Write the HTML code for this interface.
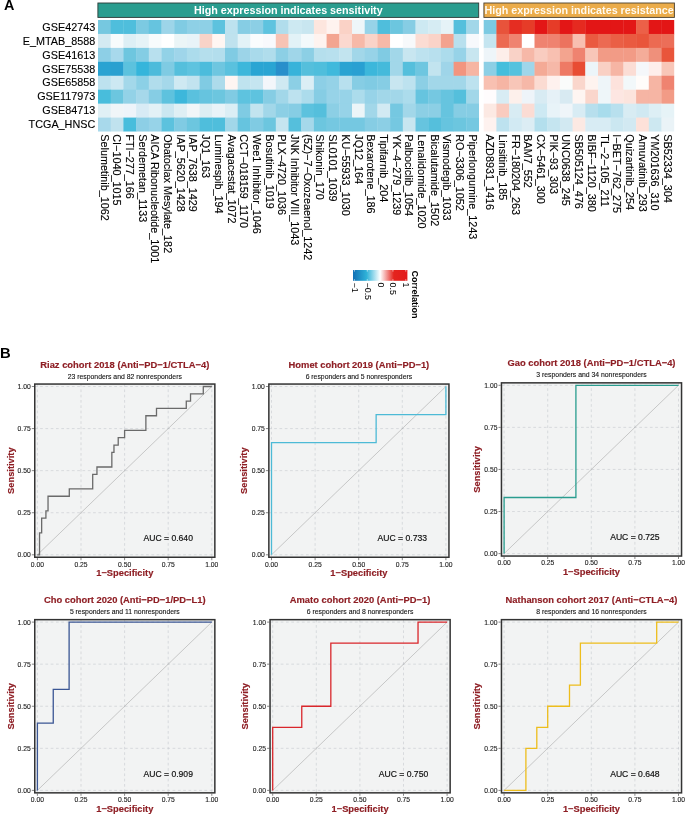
<!DOCTYPE html>
<html><head><meta charset="utf-8"><title>Figure</title>
<style>
html,body{margin:0;padding:0;background:#fff;}
body{width:685px;height:814px;overflow:hidden;}
svg{display:block;font-family:"Liberation Sans", sans-serif;will-change:transform;}
</style></head>
<body>
<svg width="685" height="814" viewBox="0 0 685 814">
<rect width="685" height="814" fill="#fff"/>
<rect x="97.9" y="3.0" width="380.8" height="14.4" fill="#2a9d8f" stroke="#2b3a37" stroke-width="0.9"/>
<text x="288.3" y="13.7" text-anchor="middle" font-weight="bold" font-size="10.75" fill="#fff">High expression indicates sensitivity</text>
<rect x="483.9" y="3.0" width="190.5" height="14.4" fill="#ebac4a" stroke="#4a4030" stroke-width="0.9"/>
<text x="579.1" y="13.7" text-anchor="middle" font-weight="bold" font-size="10.75" fill="#fffaf0">High expression indicates resistance</text>
<rect x="98.00" y="20.00" width="13.05" height="14.29" fill="#76c8e0"/>
<rect x="110.70" y="20.00" width="13.05" height="14.29" fill="#4fbedc"/>
<rect x="123.40" y="20.00" width="13.05" height="14.29" fill="#4fbedc"/>
<rect x="136.10" y="20.00" width="13.05" height="14.29" fill="#7ccae2"/>
<rect x="148.80" y="20.00" width="13.05" height="14.29" fill="#66c4df"/>
<rect x="161.50" y="20.00" width="13.05" height="14.29" fill="#9dd5e9"/>
<rect x="174.20" y="20.00" width="13.05" height="14.29" fill="#80cbe3"/>
<rect x="186.90" y="20.00" width="13.05" height="14.29" fill="#8ed0e6"/>
<rect x="199.60" y="20.00" width="13.05" height="14.29" fill="#8ed0e6"/>
<rect x="212.30" y="20.00" width="13.05" height="14.29" fill="#5dc2de"/>
<rect x="225.00" y="20.00" width="13.05" height="14.29" fill="#bde2ef"/>
<rect x="237.70" y="20.00" width="13.05" height="14.29" fill="#86cde4"/>
<rect x="250.40" y="20.00" width="13.05" height="14.29" fill="#8ccfe5"/>
<rect x="263.10" y="20.00" width="13.05" height="14.29" fill="#5ec3df"/>
<rect x="275.80" y="20.00" width="13.05" height="14.29" fill="#b1ddec"/>
<rect x="288.50" y="20.00" width="13.05" height="14.29" fill="#cde9f2"/>
<rect x="301.20" y="20.00" width="13.05" height="14.29" fill="#c8e6f0"/>
<rect x="313.90" y="20.00" width="13.05" height="14.29" fill="#fde6de"/>
<rect x="326.60" y="20.00" width="13.05" height="14.29" fill="#fef3ef"/>
<rect x="339.30" y="20.00" width="13.05" height="14.29" fill="#fad2c6"/>
<rect x="352.00" y="20.00" width="13.05" height="14.29" fill="#eef6f9"/>
<rect x="364.70" y="20.00" width="13.05" height="14.29" fill="#97d3e8"/>
<rect x="377.40" y="20.00" width="13.05" height="14.29" fill="#4fbedc"/>
<rect x="390.10" y="20.00" width="13.05" height="14.29" fill="#6cc6df"/>
<rect x="402.80" y="20.00" width="13.05" height="14.29" fill="#86cde4"/>
<rect x="415.50" y="20.00" width="13.05" height="14.29" fill="#cde9f2"/>
<rect x="428.20" y="20.00" width="13.05" height="14.29" fill="#d6ecf3"/>
<rect x="440.90" y="20.00" width="13.05" height="14.29" fill="#e6f3f7"/>
<rect x="453.60" y="20.00" width="13.05" height="14.29" fill="#55bfdc"/>
<rect x="466.30" y="20.00" width="12.70" height="14.29" fill="#a2d7e9"/>
<rect x="483.70" y="20.00" width="13.05" height="14.29" fill="#7ccae2"/>
<rect x="496.40" y="20.00" width="13.05" height="14.29" fill="#e8533b"/>
<rect x="509.10" y="20.00" width="13.05" height="14.29" fill="#e52d22"/>
<rect x="521.80" y="20.00" width="13.05" height="14.29" fill="#e63c28"/>
<rect x="534.50" y="20.00" width="13.05" height="14.29" fill="#e31616"/>
<rect x="547.20" y="20.00" width="13.05" height="14.29" fill="#e63c28"/>
<rect x="559.90" y="20.00" width="13.05" height="14.29" fill="#e31616"/>
<rect x="572.60" y="20.00" width="13.05" height="14.29" fill="#e52a20"/>
<rect x="585.30" y="20.00" width="13.05" height="14.29" fill="#e31616"/>
<rect x="598.00" y="20.00" width="13.05" height="14.29" fill="#e31616"/>
<rect x="610.70" y="20.00" width="13.05" height="14.29" fill="#e31616"/>
<rect x="623.40" y="20.00" width="13.05" height="14.29" fill="#e31616"/>
<rect x="636.10" y="20.00" width="13.05" height="14.29" fill="#ec6048"/>
<rect x="648.80" y="20.00" width="13.05" height="14.29" fill="#e31616"/>
<rect x="661.50" y="20.00" width="12.70" height="14.29" fill="#e31616"/>
<rect x="98.00" y="33.94" width="13.05" height="14.29" fill="#d4eaf2"/>
<rect x="110.70" y="33.94" width="13.05" height="14.29" fill="#f7fbfc"/>
<rect x="123.40" y="33.94" width="13.05" height="14.29" fill="#ddeff5"/>
<rect x="136.10" y="33.94" width="13.05" height="14.29" fill="#e6f3f7"/>
<rect x="148.80" y="33.94" width="13.05" height="14.29" fill="#f7fbfc"/>
<rect x="161.50" y="33.94" width="13.05" height="14.29" fill="#ffffff"/>
<rect x="174.20" y="33.94" width="13.05" height="14.29" fill="#ebf5f7"/>
<rect x="186.90" y="33.94" width="13.05" height="14.29" fill="#e8f3f8"/>
<rect x="199.60" y="33.94" width="13.05" height="14.29" fill="#f8d3c8"/>
<rect x="212.30" y="33.94" width="13.05" height="14.29" fill="#fff6f2"/>
<rect x="225.00" y="33.94" width="13.05" height="14.29" fill="#bfe2ee"/>
<rect x="237.70" y="33.94" width="13.05" height="14.29" fill="#e2f2f7"/>
<rect x="250.40" y="33.94" width="13.05" height="14.29" fill="#fafcfd"/>
<rect x="263.10" y="33.94" width="13.05" height="14.29" fill="#f8f9fc"/>
<rect x="275.80" y="33.94" width="13.05" height="14.29" fill="#f7c3b4"/>
<rect x="288.50" y="33.94" width="13.05" height="14.29" fill="#e2f2f7"/>
<rect x="301.20" y="33.94" width="13.05" height="14.29" fill="#f3f9fb"/>
<rect x="313.90" y="33.94" width="13.05" height="14.29" fill="#fef3ef"/>
<rect x="326.60" y="33.94" width="13.05" height="14.29" fill="#f3a591"/>
<rect x="339.30" y="33.94" width="13.05" height="14.29" fill="#fbd8cf"/>
<rect x="352.00" y="33.94" width="13.05" height="14.29" fill="#f7b9a8"/>
<rect x="364.70" y="33.94" width="13.05" height="14.29" fill="#fad3c8"/>
<rect x="377.40" y="33.94" width="13.05" height="14.29" fill="#f7b9a8"/>
<rect x="390.10" y="33.94" width="13.05" height="14.29" fill="#ffffff"/>
<rect x="402.80" y="33.94" width="13.05" height="14.29" fill="#f7f9fb"/>
<rect x="415.50" y="33.94" width="13.05" height="14.29" fill="#fbdcd3"/>
<rect x="428.20" y="33.94" width="13.05" height="14.29" fill="#fad3c8"/>
<rect x="440.90" y="33.94" width="13.05" height="14.29" fill="#f3a28e"/>
<rect x="453.60" y="33.94" width="13.05" height="14.29" fill="#b8e0ee"/>
<rect x="466.30" y="33.94" width="12.70" height="14.29" fill="#f7f9fc"/>
<rect x="483.70" y="33.94" width="13.05" height="14.29" fill="#c5e5f0"/>
<rect x="496.40" y="33.94" width="13.05" height="14.29" fill="#ec6a52"/>
<rect x="509.10" y="33.94" width="13.05" height="14.29" fill="#ef8370"/>
<rect x="521.80" y="33.94" width="13.05" height="14.29" fill="#ffffff"/>
<rect x="534.50" y="33.94" width="13.05" height="14.29" fill="#ef8370"/>
<rect x="547.20" y="33.94" width="13.05" height="14.29" fill="#ef8370"/>
<rect x="559.90" y="33.94" width="13.05" height="14.29" fill="#ec735e"/>
<rect x="572.60" y="33.94" width="13.05" height="14.29" fill="#f8bfb0"/>
<rect x="585.30" y="33.94" width="13.05" height="14.29" fill="#ea5a40"/>
<rect x="598.00" y="33.94" width="13.05" height="14.29" fill="#ec6a52"/>
<rect x="610.70" y="33.94" width="13.05" height="14.29" fill="#ea5f45"/>
<rect x="623.40" y="33.94" width="13.05" height="14.29" fill="#ea5a40"/>
<rect x="636.10" y="33.94" width="13.05" height="14.29" fill="#e9553b"/>
<rect x="648.80" y="33.94" width="13.05" height="14.29" fill="#ec6a52"/>
<rect x="661.50" y="33.94" width="12.70" height="14.29" fill="#ec6e58"/>
<rect x="98.00" y="47.88" width="13.05" height="14.29" fill="#8dcfe6"/>
<rect x="110.70" y="47.88" width="13.05" height="14.29" fill="#a8d9ec"/>
<rect x="123.40" y="47.88" width="13.05" height="14.29" fill="#6ec6df"/>
<rect x="136.10" y="47.88" width="13.05" height="14.29" fill="#84cde4"/>
<rect x="148.80" y="47.88" width="13.05" height="14.29" fill="#b8e0ee"/>
<rect x="161.50" y="47.88" width="13.05" height="14.29" fill="#92d2e7"/>
<rect x="174.20" y="47.88" width="13.05" height="14.29" fill="#9fd5ea"/>
<rect x="186.90" y="47.88" width="13.05" height="14.29" fill="#acdcec"/>
<rect x="199.60" y="47.88" width="13.05" height="14.29" fill="#b5dfed"/>
<rect x="212.30" y="47.88" width="13.05" height="14.29" fill="#b3deed"/>
<rect x="225.00" y="47.88" width="13.05" height="14.29" fill="#80cbe3"/>
<rect x="237.70" y="47.88" width="13.05" height="14.29" fill="#9cd4e8"/>
<rect x="250.40" y="47.88" width="13.05" height="14.29" fill="#a9daeb"/>
<rect x="263.10" y="47.88" width="13.05" height="14.29" fill="#b0ddec"/>
<rect x="275.80" y="47.88" width="13.05" height="14.29" fill="#8ccfe5"/>
<rect x="288.50" y="47.88" width="13.05" height="14.29" fill="#a0d6e9"/>
<rect x="301.20" y="47.88" width="13.05" height="14.29" fill="#8ccfe5"/>
<rect x="313.90" y="47.88" width="13.05" height="14.29" fill="#b5dfed"/>
<rect x="326.60" y="47.88" width="13.05" height="14.29" fill="#b8e0ee"/>
<rect x="339.30" y="47.88" width="13.05" height="14.29" fill="#c2e4ef"/>
<rect x="352.00" y="47.88" width="13.05" height="14.29" fill="#a2d7e9"/>
<rect x="364.70" y="47.88" width="13.05" height="14.29" fill="#97d3e8"/>
<rect x="377.40" y="47.88" width="13.05" height="14.29" fill="#80cbe3"/>
<rect x="390.10" y="47.88" width="13.05" height="14.29" fill="#a2d7e9"/>
<rect x="402.80" y="47.88" width="13.05" height="14.29" fill="#c8e6f0"/>
<rect x="415.50" y="47.88" width="13.05" height="14.29" fill="#bde2ef"/>
<rect x="428.20" y="47.88" width="13.05" height="14.29" fill="#b8e0ee"/>
<rect x="440.90" y="47.88" width="13.05" height="14.29" fill="#acdcec"/>
<rect x="453.60" y="47.88" width="13.05" height="14.29" fill="#97d3e8"/>
<rect x="466.30" y="47.88" width="12.70" height="14.29" fill="#c8e6f0"/>
<rect x="483.70" y="47.88" width="13.05" height="14.29" fill="#eef5f9"/>
<rect x="496.40" y="47.88" width="13.05" height="14.29" fill="#fdeeea"/>
<rect x="509.10" y="47.88" width="13.05" height="14.29" fill="#f9d2c7"/>
<rect x="521.80" y="47.88" width="13.05" height="14.29" fill="#f6b8a8"/>
<rect x="534.50" y="47.88" width="13.05" height="14.29" fill="#f9ccc0"/>
<rect x="547.20" y="47.88" width="13.05" height="14.29" fill="#f8c0b1"/>
<rect x="559.90" y="47.88" width="13.05" height="14.29" fill="#f3a48f"/>
<rect x="572.60" y="47.88" width="13.05" height="14.29" fill="#ef8370"/>
<rect x="585.30" y="47.88" width="13.05" height="14.29" fill="#f8c6b8"/>
<rect x="598.00" y="47.88" width="13.05" height="14.29" fill="#f29b86"/>
<rect x="610.70" y="47.88" width="13.05" height="14.29" fill="#f29b86"/>
<rect x="623.40" y="47.88" width="13.05" height="14.29" fill="#f29b86"/>
<rect x="636.10" y="47.88" width="13.05" height="14.29" fill="#f4ac99"/>
<rect x="648.80" y="47.88" width="13.05" height="14.29" fill="#ef907b"/>
<rect x="661.50" y="47.88" width="12.70" height="14.29" fill="#e9553b"/>
<rect x="98.00" y="61.82" width="13.05" height="14.29" fill="#2aa3d2"/>
<rect x="110.70" y="61.82" width="13.05" height="14.29" fill="#2aa0d0"/>
<rect x="123.40" y="61.82" width="13.05" height="14.29" fill="#5cc2de"/>
<rect x="136.10" y="61.82" width="13.05" height="14.29" fill="#35b5db"/>
<rect x="148.80" y="61.82" width="13.05" height="14.29" fill="#4dbbdb"/>
<rect x="161.50" y="61.82" width="13.05" height="14.29" fill="#7fcbe3"/>
<rect x="174.20" y="61.82" width="13.05" height="14.29" fill="#55bfdc"/>
<rect x="186.90" y="61.82" width="13.05" height="14.29" fill="#5ec3df"/>
<rect x="199.60" y="61.82" width="13.05" height="14.29" fill="#4cbcdc"/>
<rect x="212.30" y="61.82" width="13.05" height="14.29" fill="#6ec6e0"/>
<rect x="225.00" y="61.82" width="13.05" height="14.29" fill="#5ac1de"/>
<rect x="237.70" y="61.82" width="13.05" height="14.29" fill="#3cb7db"/>
<rect x="250.40" y="61.82" width="13.05" height="14.29" fill="#2aa5d3"/>
<rect x="263.10" y="61.82" width="13.05" height="14.29" fill="#2aa5d3"/>
<rect x="275.80" y="61.82" width="13.05" height="14.29" fill="#288fcb"/>
<rect x="288.50" y="61.82" width="13.05" height="14.29" fill="#38b3da"/>
<rect x="301.20" y="61.82" width="13.05" height="14.29" fill="#55bfdc"/>
<rect x="313.90" y="61.82" width="13.05" height="14.29" fill="#4fbedc"/>
<rect x="326.60" y="61.82" width="13.05" height="14.29" fill="#40b9dc"/>
<rect x="339.30" y="61.82" width="13.05" height="14.29" fill="#29a3d2"/>
<rect x="352.00" y="61.82" width="13.05" height="14.29" fill="#29a0d2"/>
<rect x="364.70" y="61.82" width="13.05" height="14.29" fill="#3cb7db"/>
<rect x="377.40" y="61.82" width="13.05" height="14.29" fill="#45badb"/>
<rect x="390.10" y="61.82" width="13.05" height="14.29" fill="#a2d7e9"/>
<rect x="402.80" y="61.82" width="13.05" height="14.29" fill="#55bfdc"/>
<rect x="415.50" y="61.82" width="13.05" height="14.29" fill="#6ec6e0"/>
<rect x="428.20" y="61.82" width="13.05" height="14.29" fill="#c2e4ef"/>
<rect x="440.90" y="61.82" width="13.05" height="14.29" fill="#9fd5e9"/>
<rect x="453.60" y="61.82" width="13.05" height="14.29" fill="#f2957f"/>
<rect x="466.30" y="61.82" width="12.70" height="14.29" fill="#f6b5a3"/>
<rect x="483.70" y="61.82" width="13.05" height="14.29" fill="#8ccfe5"/>
<rect x="496.40" y="61.82" width="13.05" height="14.29" fill="#45bedc"/>
<rect x="509.10" y="61.82" width="13.05" height="14.29" fill="#55c2de"/>
<rect x="521.80" y="61.82" width="13.05" height="14.29" fill="#9fd6ea"/>
<rect x="534.50" y="61.82" width="13.05" height="14.29" fill="#f4aa96"/>
<rect x="547.20" y="61.82" width="13.05" height="14.29" fill="#f6b8a8"/>
<rect x="559.90" y="61.82" width="13.05" height="14.29" fill="#ee7a65"/>
<rect x="572.60" y="61.82" width="13.05" height="14.29" fill="#e84c33"/>
<rect x="585.30" y="61.82" width="13.05" height="14.29" fill="#ecf5f9"/>
<rect x="598.00" y="61.82" width="13.05" height="14.29" fill="#f9d0c4"/>
<rect x="610.70" y="61.82" width="13.05" height="14.29" fill="#f6b5a4"/>
<rect x="623.40" y="61.82" width="13.05" height="14.29" fill="#fbddd5"/>
<rect x="636.10" y="61.82" width="13.05" height="14.29" fill="#f5f7fa"/>
<rect x="648.80" y="61.82" width="13.05" height="14.29" fill="#feeeeb"/>
<rect x="661.50" y="61.82" width="12.70" height="14.29" fill="#f8c6b8"/>
<rect x="98.00" y="75.76" width="13.05" height="14.29" fill="#bde2ef"/>
<rect x="110.70" y="75.76" width="13.05" height="14.29" fill="#cde8f2"/>
<rect x="123.40" y="75.76" width="13.05" height="14.29" fill="#a3d8ea"/>
<rect x="136.10" y="75.76" width="13.05" height="14.29" fill="#8cd0e6"/>
<rect x="148.80" y="75.76" width="13.05" height="14.29" fill="#b1ddec"/>
<rect x="161.50" y="75.76" width="13.05" height="14.29" fill="#a5d8ea"/>
<rect x="174.20" y="75.76" width="13.05" height="14.29" fill="#cfe9f2"/>
<rect x="186.90" y="75.76" width="13.05" height="14.29" fill="#c2e3ef"/>
<rect x="199.60" y="75.76" width="13.05" height="14.29" fill="#80cbe3"/>
<rect x="212.30" y="75.76" width="13.05" height="14.29" fill="#addbeb"/>
<rect x="225.00" y="75.76" width="13.05" height="14.29" fill="#fef5f2"/>
<rect x="237.70" y="75.76" width="13.05" height="14.29" fill="#bfe3ef"/>
<rect x="250.40" y="75.76" width="13.05" height="14.29" fill="#c5e5f0"/>
<rect x="263.10" y="75.76" width="13.05" height="14.29" fill="#f3f6fa"/>
<rect x="275.80" y="75.76" width="13.05" height="14.29" fill="#cfe9f2"/>
<rect x="288.50" y="75.76" width="13.05" height="14.29" fill="#8ccfe5"/>
<rect x="301.20" y="75.76" width="13.05" height="14.29" fill="#dbeef5"/>
<rect x="313.90" y="75.76" width="13.05" height="14.29" fill="#8dcfe6"/>
<rect x="326.60" y="75.76" width="13.05" height="14.29" fill="#95d2e7"/>
<rect x="339.30" y="75.76" width="13.05" height="14.29" fill="#b8e0ee"/>
<rect x="352.00" y="75.76" width="13.05" height="14.29" fill="#86cde4"/>
<rect x="364.70" y="75.76" width="13.05" height="14.29" fill="#80cbe3"/>
<rect x="377.40" y="75.76" width="13.05" height="14.29" fill="#86cde4"/>
<rect x="390.10" y="75.76" width="13.05" height="14.29" fill="#c8e6f0"/>
<rect x="402.80" y="75.76" width="13.05" height="14.29" fill="#bde2ef"/>
<rect x="415.50" y="75.76" width="13.05" height="14.29" fill="#8ccfe5"/>
<rect x="428.20" y="75.76" width="13.05" height="14.29" fill="#a2d7e9"/>
<rect x="440.90" y="75.76" width="13.05" height="14.29" fill="#a2d7e9"/>
<rect x="453.60" y="75.76" width="13.05" height="14.29" fill="#a2d7e9"/>
<rect x="466.30" y="75.76" width="12.70" height="14.29" fill="#bde2ef"/>
<rect x="483.70" y="75.76" width="13.05" height="14.29" fill="#f8c0b1"/>
<rect x="496.40" y="75.76" width="13.05" height="14.29" fill="#f6b5a4"/>
<rect x="509.10" y="75.76" width="13.05" height="14.29" fill="#f8c6b8"/>
<rect x="521.80" y="75.76" width="13.05" height="14.29" fill="#f6b8a8"/>
<rect x="534.50" y="75.76" width="13.05" height="14.29" fill="#fbdbd2"/>
<rect x="547.20" y="75.76" width="13.05" height="14.29" fill="#fef1ee"/>
<rect x="559.90" y="75.76" width="13.05" height="14.29" fill="#fafcfb"/>
<rect x="572.60" y="75.76" width="13.05" height="14.29" fill="#fad6cc"/>
<rect x="585.30" y="75.76" width="13.05" height="14.29" fill="#fef3ef"/>
<rect x="598.00" y="75.76" width="13.05" height="14.29" fill="#eef5f9"/>
<rect x="610.70" y="75.76" width="13.05" height="14.29" fill="#fde2dc"/>
<rect x="623.40" y="75.76" width="13.05" height="14.29" fill="#f2f8fa"/>
<rect x="636.10" y="75.76" width="13.05" height="14.29" fill="#fffcfa"/>
<rect x="648.80" y="75.76" width="13.05" height="14.29" fill="#f6b5a4"/>
<rect x="661.50" y="75.76" width="12.70" height="14.29" fill="#ef8370"/>
<rect x="98.00" y="89.70" width="13.05" height="14.29" fill="#48bddc"/>
<rect x="110.70" y="89.70" width="13.05" height="14.29" fill="#6cc6df"/>
<rect x="123.40" y="89.70" width="13.05" height="14.29" fill="#93d2e7"/>
<rect x="136.10" y="89.70" width="13.05" height="14.29" fill="#a6d8ea"/>
<rect x="148.80" y="89.70" width="13.05" height="14.29" fill="#86cde4"/>
<rect x="161.50" y="89.70" width="13.05" height="14.29" fill="#5ec2de"/>
<rect x="174.20" y="89.70" width="13.05" height="14.29" fill="#3db7db"/>
<rect x="186.90" y="89.70" width="13.05" height="14.29" fill="#5ac1de"/>
<rect x="199.60" y="89.70" width="13.05" height="14.29" fill="#66c4df"/>
<rect x="212.30" y="89.70" width="13.05" height="14.29" fill="#6cc6df"/>
<rect x="225.00" y="89.70" width="13.05" height="14.29" fill="#80cbe3"/>
<rect x="237.70" y="89.70" width="13.05" height="14.29" fill="#5ec3df"/>
<rect x="250.40" y="89.70" width="13.05" height="14.29" fill="#5ec3df"/>
<rect x="263.10" y="89.70" width="13.05" height="14.29" fill="#86cde4"/>
<rect x="275.80" y="89.70" width="13.05" height="14.29" fill="#a2d7e9"/>
<rect x="288.50" y="89.70" width="13.05" height="14.29" fill="#bde2ef"/>
<rect x="301.20" y="89.70" width="13.05" height="14.29" fill="#acdcec"/>
<rect x="313.90" y="89.70" width="13.05" height="14.29" fill="#86cde4"/>
<rect x="326.60" y="89.70" width="13.05" height="14.29" fill="#97d3e8"/>
<rect x="339.30" y="89.70" width="13.05" height="14.29" fill="#97d3e8"/>
<rect x="352.00" y="89.70" width="13.05" height="14.29" fill="#acdcec"/>
<rect x="364.70" y="89.70" width="13.05" height="14.29" fill="#97d3e8"/>
<rect x="377.40" y="89.70" width="13.05" height="14.29" fill="#a2d7e9"/>
<rect x="390.10" y="89.70" width="13.05" height="14.29" fill="#a2d7e9"/>
<rect x="402.80" y="89.70" width="13.05" height="14.29" fill="#acdcec"/>
<rect x="415.50" y="89.70" width="13.05" height="14.29" fill="#66c4df"/>
<rect x="428.20" y="89.70" width="13.05" height="14.29" fill="#75c8e1"/>
<rect x="440.90" y="89.70" width="13.05" height="14.29" fill="#66c4df"/>
<rect x="453.60" y="89.70" width="13.05" height="14.29" fill="#55bfdc"/>
<rect x="466.30" y="89.70" width="12.70" height="14.29" fill="#a2d7e9"/>
<rect x="483.70" y="89.70" width="13.05" height="14.29" fill="#fffcfd"/>
<rect x="496.40" y="89.70" width="13.05" height="14.29" fill="#d8ecf4"/>
<rect x="509.10" y="89.70" width="13.05" height="14.29" fill="#fdf0eb"/>
<rect x="521.80" y="89.70" width="13.05" height="14.29" fill="#eef4f9"/>
<rect x="534.50" y="89.70" width="13.05" height="14.29" fill="#d8ebf3"/>
<rect x="547.20" y="89.70" width="13.05" height="14.29" fill="#e6f1f7"/>
<rect x="559.90" y="89.70" width="13.05" height="14.29" fill="#d8eaf2"/>
<rect x="572.60" y="89.70" width="13.05" height="14.29" fill="#fef5f2"/>
<rect x="585.30" y="89.70" width="13.05" height="14.29" fill="#fad6cc"/>
<rect x="598.00" y="89.70" width="13.05" height="14.29" fill="#eef6f9"/>
<rect x="610.70" y="89.70" width="13.05" height="14.29" fill="#fde6e2"/>
<rect x="623.40" y="89.70" width="13.05" height="14.29" fill="#fce4dd"/>
<rect x="636.10" y="89.70" width="13.05" height="14.29" fill="#f6b5a4"/>
<rect x="648.80" y="89.70" width="13.05" height="14.29" fill="#f6b5a4"/>
<rect x="661.50" y="89.70" width="12.70" height="14.29" fill="#f29b86"/>
<rect x="98.00" y="103.64" width="13.05" height="14.29" fill="#e0f0f5"/>
<rect x="110.70" y="103.64" width="13.05" height="14.29" fill="#f0f5f8"/>
<rect x="123.40" y="103.64" width="13.05" height="14.29" fill="#eef4fa"/>
<rect x="136.10" y="103.64" width="13.05" height="14.29" fill="#d8ebf5"/>
<rect x="148.80" y="103.64" width="13.05" height="14.29" fill="#e3f1f6"/>
<rect x="161.50" y="103.64" width="13.05" height="14.29" fill="#cbe7f1"/>
<rect x="174.20" y="103.64" width="13.05" height="14.29" fill="#dfeff4"/>
<rect x="186.90" y="103.64" width="13.05" height="14.29" fill="#f1f6f8"/>
<rect x="199.60" y="103.64" width="13.05" height="14.29" fill="#ddeef3"/>
<rect x="212.30" y="103.64" width="13.05" height="14.29" fill="#e9f3f8"/>
<rect x="225.00" y="103.64" width="13.05" height="14.29" fill="#dbeef5"/>
<rect x="237.70" y="103.64" width="13.05" height="14.29" fill="#7fcbe3"/>
<rect x="250.40" y="103.64" width="13.05" height="14.29" fill="#c2e4ef"/>
<rect x="263.10" y="103.64" width="13.05" height="14.29" fill="#a2d7e9"/>
<rect x="275.80" y="103.64" width="13.05" height="14.29" fill="#8ccfe5"/>
<rect x="288.50" y="103.64" width="13.05" height="14.29" fill="#86cde4"/>
<rect x="301.20" y="103.64" width="13.05" height="14.29" fill="#5cc2de"/>
<rect x="313.90" y="103.64" width="13.05" height="14.29" fill="#55bfdc"/>
<rect x="326.60" y="103.64" width="13.05" height="14.29" fill="#8ccfe5"/>
<rect x="339.30" y="103.64" width="13.05" height="14.29" fill="#97d3e8"/>
<rect x="352.00" y="103.64" width="13.05" height="14.29" fill="#ecf5f8"/>
<rect x="364.70" y="103.64" width="13.05" height="14.29" fill="#a2d7e9"/>
<rect x="377.40" y="103.64" width="13.05" height="14.29" fill="#d2eaf3"/>
<rect x="390.10" y="103.64" width="13.05" height="14.29" fill="#75c8e1"/>
<rect x="402.80" y="103.64" width="13.05" height="14.29" fill="#a2d7e9"/>
<rect x="415.50" y="103.64" width="13.05" height="14.29" fill="#8ccfe5"/>
<rect x="428.20" y="103.64" width="13.05" height="14.29" fill="#8ccfe5"/>
<rect x="440.90" y="103.64" width="13.05" height="14.29" fill="#66c4df"/>
<rect x="453.60" y="103.64" width="13.05" height="14.29" fill="#86cde4"/>
<rect x="466.30" y="103.64" width="12.70" height="14.29" fill="#86cde4"/>
<rect x="483.70" y="103.64" width="13.05" height="14.29" fill="#fce9e3"/>
<rect x="496.40" y="103.64" width="13.05" height="14.29" fill="#f9cbbf"/>
<rect x="509.10" y="103.64" width="13.05" height="14.29" fill="#d8ecf3"/>
<rect x="521.80" y="103.64" width="13.05" height="14.29" fill="#fbdcd4"/>
<rect x="534.50" y="103.64" width="13.05" height="14.29" fill="#cde9f3"/>
<rect x="547.20" y="103.64" width="13.05" height="14.29" fill="#e8f3f8"/>
<rect x="559.90" y="103.64" width="13.05" height="14.29" fill="#eff5f9"/>
<rect x="572.60" y="103.64" width="13.05" height="14.29" fill="#d8ecf4"/>
<rect x="585.30" y="103.64" width="13.05" height="14.29" fill="#b7dfed"/>
<rect x="598.00" y="103.64" width="13.05" height="14.29" fill="#a8dcec"/>
<rect x="610.70" y="103.64" width="13.05" height="14.29" fill="#b8e0ee"/>
<rect x="623.40" y="103.64" width="13.05" height="14.29" fill="#d8ecf3"/>
<rect x="636.10" y="103.64" width="13.05" height="14.29" fill="#d0e9f2"/>
<rect x="648.80" y="103.64" width="13.05" height="14.29" fill="#ddeff5"/>
<rect x="661.50" y="103.64" width="12.70" height="14.29" fill="#e6f3f7"/>
<rect x="98.00" y="117.58" width="13.05" height="13.94" fill="#a8d9eb"/>
<rect x="110.70" y="117.58" width="13.05" height="13.94" fill="#c0e2ee"/>
<rect x="123.40" y="117.58" width="13.05" height="13.94" fill="#48bddc"/>
<rect x="136.10" y="117.58" width="13.05" height="13.94" fill="#8dcfe6"/>
<rect x="148.80" y="117.58" width="13.05" height="13.94" fill="#97d3e8"/>
<rect x="161.50" y="117.58" width="13.05" height="13.94" fill="#5cc2de"/>
<rect x="174.20" y="117.58" width="13.05" height="13.94" fill="#80cbe3"/>
<rect x="186.90" y="117.58" width="13.05" height="13.94" fill="#6cc6df"/>
<rect x="199.60" y="117.58" width="13.05" height="13.94" fill="#4fbedc"/>
<rect x="212.30" y="117.58" width="13.05" height="13.94" fill="#4fbedc"/>
<rect x="225.00" y="117.58" width="13.05" height="13.94" fill="#a2d7e9"/>
<rect x="237.70" y="117.58" width="13.05" height="13.94" fill="#66c4df"/>
<rect x="250.40" y="117.58" width="13.05" height="13.94" fill="#80cbe3"/>
<rect x="263.10" y="117.58" width="13.05" height="13.94" fill="#6cc6df"/>
<rect x="275.80" y="117.58" width="13.05" height="13.94" fill="#c5e5f0"/>
<rect x="288.50" y="117.58" width="13.05" height="13.94" fill="#55bfdc"/>
<rect x="301.20" y="117.58" width="13.05" height="13.94" fill="#a5d8ea"/>
<rect x="313.90" y="117.58" width="13.05" height="13.94" fill="#6cc6df"/>
<rect x="326.60" y="117.58" width="13.05" height="13.94" fill="#75c8e1"/>
<rect x="339.30" y="117.58" width="13.05" height="13.94" fill="#75c8e1"/>
<rect x="352.00" y="117.58" width="13.05" height="13.94" fill="#75c8e1"/>
<rect x="364.70" y="117.58" width="13.05" height="13.94" fill="#86cde4"/>
<rect x="377.40" y="117.58" width="13.05" height="13.94" fill="#8ccfe5"/>
<rect x="390.10" y="117.58" width="13.05" height="13.94" fill="#75c8e1"/>
<rect x="402.80" y="117.58" width="13.05" height="13.94" fill="#c8e6f0"/>
<rect x="415.50" y="117.58" width="13.05" height="13.94" fill="#66c4df"/>
<rect x="428.20" y="117.58" width="13.05" height="13.94" fill="#55bfdc"/>
<rect x="440.90" y="117.58" width="13.05" height="13.94" fill="#66c4df"/>
<rect x="453.60" y="117.58" width="13.05" height="13.94" fill="#6cc6df"/>
<rect x="466.30" y="117.58" width="12.70" height="13.94" fill="#75c8e1"/>
<rect x="483.70" y="117.58" width="13.05" height="13.94" fill="#fef2ef"/>
<rect x="496.40" y="117.58" width="13.05" height="13.94" fill="#bde2ef"/>
<rect x="509.10" y="117.58" width="13.05" height="13.94" fill="#d2eaf3"/>
<rect x="521.80" y="117.58" width="13.05" height="13.94" fill="#dcedf4"/>
<rect x="534.50" y="117.58" width="13.05" height="13.94" fill="#b3dfed"/>
<rect x="547.20" y="117.58" width="13.05" height="13.94" fill="#c5e5f0"/>
<rect x="559.90" y="117.58" width="13.05" height="13.94" fill="#d2e9f2"/>
<rect x="572.60" y="117.58" width="13.05" height="13.94" fill="#fce9e3"/>
<rect x="585.30" y="117.58" width="13.05" height="13.94" fill="#d8ecf4"/>
<rect x="598.00" y="117.58" width="13.05" height="13.94" fill="#d8ecf4"/>
<rect x="610.70" y="117.58" width="13.05" height="13.94" fill="#cbe7f1"/>
<rect x="623.40" y="117.58" width="13.05" height="13.94" fill="#d2e9f2"/>
<rect x="636.10" y="117.58" width="13.05" height="13.94" fill="#fde1d9"/>
<rect x="648.80" y="117.58" width="13.05" height="13.94" fill="#cde8f1"/>
<rect x="661.50" y="117.58" width="12.70" height="13.94" fill="#eaf3f7"/>
<text x="95.2" y="30.72" text-anchor="end" font-size="10.8" fill="#000" stroke="#000" stroke-width="0.12">GSE42743</text>
<text x="95.2" y="44.66" text-anchor="end" font-size="10.8" fill="#000" stroke="#000" stroke-width="0.12">E_MTAB_8588</text>
<text x="95.2" y="58.60" text-anchor="end" font-size="10.8" fill="#000" stroke="#000" stroke-width="0.12">GSE41613</text>
<text x="95.2" y="72.54" text-anchor="end" font-size="10.8" fill="#000" stroke="#000" stroke-width="0.12">GSE75538</text>
<text x="95.2" y="86.48" text-anchor="end" font-size="10.8" fill="#000" stroke="#000" stroke-width="0.12">GSE65858</text>
<text x="95.2" y="100.42" text-anchor="end" font-size="10.8" fill="#000" stroke="#000" stroke-width="0.12">GSE117973</text>
<text x="95.2" y="114.36" text-anchor="end" font-size="10.8" fill="#000" stroke="#000" stroke-width="0.12">GSE84713</text>
<text x="95.2" y="128.30" text-anchor="end" font-size="10.8" fill="#000" stroke="#000" stroke-width="0.12">TCGA_HNSC</text>
<text transform="translate(100.55,134.3) rotate(90)" font-size="10.8" fill="#000" stroke="#000" stroke-width="0.12">Selumetinib_1062</text>
<text transform="translate(113.25,134.3) rotate(90)" font-size="10.8" fill="#000" stroke="#000" stroke-width="0.12">CI−1040_1015</text>
<text transform="translate(125.95,134.3) rotate(90)" font-size="10.8" fill="#000" stroke="#000" stroke-width="0.12">FTI−277_166</text>
<text transform="translate(138.65,134.3) rotate(90)" font-size="10.8" fill="#000" stroke="#000" stroke-width="0.12">Serdemetan_1133</text>
<text transform="translate(151.35,134.3) rotate(90)" font-size="10.8" fill="#000" stroke="#000" stroke-width="0.12">AICA Ribonucleotide_1001</text>
<text transform="translate(164.05,134.3) rotate(90)" font-size="10.8" fill="#000" stroke="#000" stroke-width="0.12">Obatoclax Mesylate_182</text>
<text transform="translate(176.75,134.3) rotate(90)" font-size="10.8" fill="#000" stroke="#000" stroke-width="0.12">IAP_5620_1428</text>
<text transform="translate(189.45,134.3) rotate(90)" font-size="10.8" fill="#000" stroke="#000" stroke-width="0.12">IAP_7638_1429</text>
<text transform="translate(202.15,134.3) rotate(90)" font-size="10.8" fill="#000" stroke="#000" stroke-width="0.12">JQ1_163</text>
<text transform="translate(214.85,134.3) rotate(90)" font-size="10.8" fill="#000" stroke="#000" stroke-width="0.12">Luminespib_194</text>
<text transform="translate(227.55,134.3) rotate(90)" font-size="10.8" fill="#000" stroke="#000" stroke-width="0.12">Avagacestat_1072</text>
<text transform="translate(240.25,134.3) rotate(90)" font-size="10.8" fill="#000" stroke="#000" stroke-width="0.12">CCT−018159_1170</text>
<text transform="translate(252.95,134.3) rotate(90)" font-size="10.8" fill="#000" stroke="#000" stroke-width="0.12">Wee1 Inhibitor_1046</text>
<text transform="translate(265.65,134.3) rotate(90)" font-size="10.8" fill="#000" stroke="#000" stroke-width="0.12">Bosutinib_1019</text>
<text transform="translate(278.35,134.3) rotate(90)" font-size="10.8" fill="#000" stroke="#000" stroke-width="0.12">PLX−4720_1036</text>
<text transform="translate(291.05,134.3) rotate(90)" font-size="10.8" fill="#000" stroke="#000" stroke-width="0.12">JNK Inhibitor VIII_1043</text>
<text transform="translate(303.75,134.3) rotate(90)" font-size="10.8" fill="#000" stroke="#000" stroke-width="0.12">(5Z)−7−Oxozeaenol_1242</text>
<text transform="translate(316.45,134.3) rotate(90)" font-size="10.8" fill="#000" stroke="#000" stroke-width="0.12">Shikonin_170</text>
<text transform="translate(329.15,134.3) rotate(90)" font-size="10.8" fill="#000" stroke="#000" stroke-width="0.12">SL0101_1039</text>
<text transform="translate(341.85,134.3) rotate(90)" font-size="10.8" fill="#000" stroke="#000" stroke-width="0.12">KU−55933_1030</text>
<text transform="translate(354.55,134.3) rotate(90)" font-size="10.8" fill="#000" stroke="#000" stroke-width="0.12">JQ12_164</text>
<text transform="translate(367.25,134.3) rotate(90)" font-size="10.8" fill="#000" stroke="#000" stroke-width="0.12">Bexarotene_186</text>
<text transform="translate(379.95,134.3) rotate(90)" font-size="10.8" fill="#000" stroke="#000" stroke-width="0.12">Tipifarnib_204</text>
<text transform="translate(392.65,134.3) rotate(90)" font-size="10.8" fill="#000" stroke="#000" stroke-width="0.12">YK−4−279_1239</text>
<text transform="translate(405.35,134.3) rotate(90)" font-size="10.8" fill="#000" stroke="#000" stroke-width="0.12">Palbociclib_1054</text>
<text transform="translate(418.05,134.3) rotate(90)" font-size="10.8" fill="#000" stroke="#000" stroke-width="0.12">Lenalidomide_1020</text>
<text transform="translate(430.75,134.3) rotate(90)" font-size="10.8" fill="#000" stroke="#000" stroke-width="0.12">Bicalutamide_1502</text>
<text transform="translate(443.45,134.3) rotate(90)" font-size="10.8" fill="#000" stroke="#000" stroke-width="0.12">Vismodegib_1033</text>
<text transform="translate(456.15,134.3) rotate(90)" font-size="10.8" fill="#000" stroke="#000" stroke-width="0.12">RO−3306_1052</text>
<text transform="translate(468.85,134.3) rotate(90)" font-size="10.8" fill="#000" stroke="#000" stroke-width="0.12">Piperlongumine_1243</text>
<text transform="translate(486.25,134.3) rotate(90)" font-size="10.8" fill="#000" stroke="#000" stroke-width="0.12">AZD8931_1416</text>
<text transform="translate(498.95,134.3) rotate(90)" font-size="10.8" fill="#000" stroke="#000" stroke-width="0.12">Linsitinib_185</text>
<text transform="translate(511.65,134.3) rotate(90)" font-size="10.8" fill="#000" stroke="#000" stroke-width="0.12">FR−180204_263</text>
<text transform="translate(524.35,134.3) rotate(90)" font-size="10.8" fill="#000" stroke="#000" stroke-width="0.12">BAM7_552</text>
<text transform="translate(537.05,134.3) rotate(90)" font-size="10.8" fill="#000" stroke="#000" stroke-width="0.12">CX−5461_300</text>
<text transform="translate(549.75,134.3) rotate(90)" font-size="10.8" fill="#000" stroke="#000" stroke-width="0.12">PIK−93_303</text>
<text transform="translate(562.45,134.3) rotate(90)" font-size="10.8" fill="#000" stroke="#000" stroke-width="0.12">UNC0638_245</text>
<text transform="translate(575.15,134.3) rotate(90)" font-size="10.8" fill="#000" stroke="#000" stroke-width="0.12">SB505124_476</text>
<text transform="translate(587.85,134.3) rotate(90)" font-size="10.8" fill="#000" stroke="#000" stroke-width="0.12">BIBF−1120_380</text>
<text transform="translate(600.55,134.3) rotate(90)" font-size="10.8" fill="#000" stroke="#000" stroke-width="0.12">TL−2−105_211</text>
<text transform="translate(613.25,134.3) rotate(90)" font-size="10.8" fill="#000" stroke="#000" stroke-width="0.12">I−BET−762_275</text>
<text transform="translate(625.95,134.3) rotate(90)" font-size="10.8" fill="#000" stroke="#000" stroke-width="0.12">Quizartinib_254</text>
<text transform="translate(638.65,134.3) rotate(90)" font-size="10.8" fill="#000" stroke="#000" stroke-width="0.12">Amuvatinib_293</text>
<text transform="translate(651.35,134.3) rotate(90)" font-size="10.8" fill="#000" stroke="#000" stroke-width="0.12">YM201636_310</text>
<text transform="translate(664.05,134.3) rotate(90)" font-size="10.8" fill="#000" stroke="#000" stroke-width="0.12">SB52334_304</text>
<defs><linearGradient id="lg" x1="0" x2="1" y1="0" y2="0"><stop offset="0" stop-color="#1070b5"/><stop offset="0.25" stop-color="#2fb2d8"/><stop offset="0.5" stop-color="#ffffff"/><stop offset="0.75" stop-color="#e4241e"/><stop offset="1" stop-color="#e31a1c"/></linearGradient></defs>
<rect x="353.0" y="270.0" width="54.40" height="10.8" fill="url(#lg)"/>
<line x1="354.40" y1="270" x2="354.40" y2="271.6" stroke="#fff" stroke-width="0.6"/>
<line x1="354.40" y1="279.2" x2="354.40" y2="280.8" stroke="#fff" stroke-width="0.6"/>
<text transform="translate(351.80,282.6) rotate(90)" font-size="8.8" fill="#000">−1</text>
<line x1="367.25" y1="270" x2="367.25" y2="271.6" stroke="#fff" stroke-width="0.6"/>
<line x1="367.25" y1="279.2" x2="367.25" y2="280.8" stroke="#fff" stroke-width="0.6"/>
<text transform="translate(364.65,282.6) rotate(90)" font-size="8.8" fill="#000">−0.5</text>
<line x1="380.10" y1="270" x2="380.10" y2="271.6" stroke="#fff" stroke-width="0.6"/>
<line x1="380.10" y1="279.2" x2="380.10" y2="280.8" stroke="#fff" stroke-width="0.6"/>
<text transform="translate(377.50,282.6) rotate(90)" font-size="8.8" fill="#000">0</text>
<line x1="392.95" y1="270" x2="392.95" y2="271.6" stroke="#fff" stroke-width="0.6"/>
<line x1="392.95" y1="279.2" x2="392.95" y2="280.8" stroke="#fff" stroke-width="0.6"/>
<text transform="translate(390.35,282.6) rotate(90)" font-size="8.8" fill="#000">0.5</text>
<line x1="405.80" y1="270" x2="405.80" y2="271.6" stroke="#fff" stroke-width="0.6"/>
<line x1="405.80" y1="279.2" x2="405.80" y2="280.8" stroke="#fff" stroke-width="0.6"/>
<text transform="translate(403.20,282.6) rotate(90)" font-size="8.8" fill="#000">1</text>
<text transform="translate(411.8,270.6) rotate(90)" font-size="9.0" font-weight="bold" fill="#000">Correlation</text>
<text x="3.9" y="10.3" font-size="14.4" font-weight="bold" fill="#000">A</text>
<text x="0" y="357.8" font-size="14.8" font-weight="bold" fill="#000">B</text>
<rect x="34.75" y="384.05" width="180.10" height="173.20" fill="#f2f3f3"/>
<line x1="37.40" y1="384.10" x2="37.40" y2="557.20" stroke="#c6c9ce" stroke-width="0.6" stroke-dasharray="2.7,2.6"/>
<line x1="34.80" y1="554.80" x2="214.80" y2="554.80" stroke="#c6c9ce" stroke-width="0.6" stroke-dasharray="2.7,2.6"/>
<line x1="81.00" y1="384.10" x2="81.00" y2="557.20" stroke="#c6c9ce" stroke-width="0.6" stroke-dasharray="2.7,2.6"/>
<line x1="34.80" y1="512.72" x2="214.80" y2="512.72" stroke="#c6c9ce" stroke-width="0.6" stroke-dasharray="2.7,2.6"/>
<line x1="124.60" y1="384.10" x2="124.60" y2="557.20" stroke="#c6c9ce" stroke-width="0.6" stroke-dasharray="2.7,2.6"/>
<line x1="34.80" y1="470.65" x2="214.80" y2="470.65" stroke="#c6c9ce" stroke-width="0.6" stroke-dasharray="2.7,2.6"/>
<line x1="168.20" y1="384.10" x2="168.20" y2="557.20" stroke="#c6c9ce" stroke-width="0.6" stroke-dasharray="2.7,2.6"/>
<line x1="34.80" y1="428.57" x2="214.80" y2="428.57" stroke="#c6c9ce" stroke-width="0.6" stroke-dasharray="2.7,2.6"/>
<line x1="211.80" y1="384.10" x2="211.80" y2="557.20" stroke="#c6c9ce" stroke-width="0.6" stroke-dasharray="2.7,2.6"/>
<line x1="34.80" y1="386.50" x2="214.80" y2="386.50" stroke="#c6c9ce" stroke-width="0.6" stroke-dasharray="2.7,2.6"/>
<line x1="37.40" y1="554.80" x2="211.80" y2="386.50" stroke="#9a9a9a" stroke-width="0.5"/>
<path d="M37.40,554.80 L39.53,554.80 L39.53,532.85 L41.65,532.85 L41.65,518.21 L45.91,518.21 L45.91,510.90 L48.03,510.90 L48.03,496.26 L69.30,496.26 L69.30,488.94 L92.70,488.94 L92.70,474.31 L96.95,474.31 L96.95,466.99 L111.84,466.99 L111.84,452.36 L113.97,452.36 L113.97,445.04 L118.22,445.04 L118.22,437.72 L124.60,437.72 L124.60,430.40 L145.87,430.40 L145.87,415.77 L156.50,415.77 L156.50,408.45 L186.28,408.45 L186.28,401.13 L190.53,401.13 L190.53,393.82 L203.29,393.82 L203.29,386.50 L211.80,386.50" fill="none" stroke="#6a6a6a" stroke-width="1.3" stroke-linejoin="miter"/>
<rect x="34.75" y="384.05" width="180.10" height="173.20" fill="none" stroke="#333" stroke-width="1.5"/>
<line x1="31.80" y1="554.80" x2="34.00" y2="554.80" stroke="#333" stroke-width="0.6"/>
<text x="30.70" y="557.20" text-anchor="end" font-size="6.75" fill="#222" stroke="#222" stroke-width="0.12">0.00</text>
<line x1="37.40" y1="558.00" x2="37.40" y2="560.20" stroke="#333" stroke-width="0.6"/>
<text x="37.40" y="566.60" text-anchor="middle" font-size="6.75" fill="#222" stroke="#222" stroke-width="0.12">0.00</text>
<line x1="31.80" y1="512.72" x2="34.00" y2="512.72" stroke="#333" stroke-width="0.6"/>
<text x="30.70" y="515.12" text-anchor="end" font-size="6.75" fill="#222" stroke="#222" stroke-width="0.12">0.25</text>
<line x1="81.00" y1="558.00" x2="81.00" y2="560.20" stroke="#333" stroke-width="0.6"/>
<text x="81.00" y="566.60" text-anchor="middle" font-size="6.75" fill="#222" stroke="#222" stroke-width="0.12">0.25</text>
<line x1="31.80" y1="470.65" x2="34.00" y2="470.65" stroke="#333" stroke-width="0.6"/>
<text x="30.70" y="473.05" text-anchor="end" font-size="6.75" fill="#222" stroke="#222" stroke-width="0.12">0.50</text>
<line x1="124.60" y1="558.00" x2="124.60" y2="560.20" stroke="#333" stroke-width="0.6"/>
<text x="124.60" y="566.60" text-anchor="middle" font-size="6.75" fill="#222" stroke="#222" stroke-width="0.12">0.50</text>
<line x1="31.80" y1="428.57" x2="34.00" y2="428.57" stroke="#333" stroke-width="0.6"/>
<text x="30.70" y="430.97" text-anchor="end" font-size="6.75" fill="#222" stroke="#222" stroke-width="0.12">0.75</text>
<line x1="168.20" y1="558.00" x2="168.20" y2="560.20" stroke="#333" stroke-width="0.6"/>
<text x="168.20" y="566.60" text-anchor="middle" font-size="6.75" fill="#222" stroke="#222" stroke-width="0.12">0.75</text>
<line x1="31.80" y1="386.50" x2="34.00" y2="386.50" stroke="#333" stroke-width="0.6"/>
<text x="30.70" y="388.90" text-anchor="end" font-size="6.75" fill="#222" stroke="#222" stroke-width="0.12">1.00</text>
<line x1="211.80" y1="558.00" x2="211.80" y2="560.20" stroke="#333" stroke-width="0.6"/>
<text x="211.80" y="566.60" text-anchor="middle" font-size="6.75" fill="#222" stroke="#222" stroke-width="0.12">1.00</text>
<text x="168.20" y="541.07" text-anchor="middle" font-size="8.6" fill="#111" stroke="#111" stroke-width="0.18">AUC = 0.640</text>
<text x="124.80" y="367.60" text-anchor="middle" font-size="9.4" font-weight="bold" fill="#8e1e24" stroke="#8e1e24" stroke-width="0.15">Riaz cohort 2018 (Anti−PD−1/CTLA−4)</text>
<text x="124.80" y="378.60" text-anchor="middle" font-size="6.85" fill="#111" stroke="#111" stroke-width="0.1">23 responders and 82 nonresponders</text>
<text x="124.80" y="576.20" text-anchor="middle" font-size="9.3" font-weight="bold" fill="#8e1e24" stroke="#8e1e24" stroke-width="0.15">1−Specificity</text>
<text transform="translate(13.90,470.65) rotate(-90)" text-anchor="middle" font-size="9.3" font-weight="bold" fill="#8e1e24" stroke="#8e1e24" stroke-width="0.15">Sensitivity</text>
<rect x="268.85" y="384.05" width="180.10" height="173.20" fill="#f2f3f3"/>
<line x1="271.50" y1="384.10" x2="271.50" y2="557.20" stroke="#c6c9ce" stroke-width="0.6" stroke-dasharray="2.7,2.6"/>
<line x1="268.90" y1="554.80" x2="448.90" y2="554.80" stroke="#c6c9ce" stroke-width="0.6" stroke-dasharray="2.7,2.6"/>
<line x1="315.10" y1="384.10" x2="315.10" y2="557.20" stroke="#c6c9ce" stroke-width="0.6" stroke-dasharray="2.7,2.6"/>
<line x1="268.90" y1="512.72" x2="448.90" y2="512.72" stroke="#c6c9ce" stroke-width="0.6" stroke-dasharray="2.7,2.6"/>
<line x1="358.70" y1="384.10" x2="358.70" y2="557.20" stroke="#c6c9ce" stroke-width="0.6" stroke-dasharray="2.7,2.6"/>
<line x1="268.90" y1="470.65" x2="448.90" y2="470.65" stroke="#c6c9ce" stroke-width="0.6" stroke-dasharray="2.7,2.6"/>
<line x1="402.30" y1="384.10" x2="402.30" y2="557.20" stroke="#c6c9ce" stroke-width="0.6" stroke-dasharray="2.7,2.6"/>
<line x1="268.90" y1="428.57" x2="448.90" y2="428.57" stroke="#c6c9ce" stroke-width="0.6" stroke-dasharray="2.7,2.6"/>
<line x1="445.90" y1="384.10" x2="445.90" y2="557.20" stroke="#c6c9ce" stroke-width="0.6" stroke-dasharray="2.7,2.6"/>
<line x1="268.90" y1="386.50" x2="448.90" y2="386.50" stroke="#c6c9ce" stroke-width="0.6" stroke-dasharray="2.7,2.6"/>
<line x1="271.50" y1="554.80" x2="445.90" y2="386.50" stroke="#9a9a9a" stroke-width="0.5"/>
<path d="M271.50,554.80 L271.50,442.60 L376.14,442.60 L376.14,414.55 L445.90,414.55 L445.90,386.50" fill="none" stroke="#4dbad6" stroke-width="1.3" stroke-linejoin="miter"/>
<rect x="268.85" y="384.05" width="180.10" height="173.20" fill="none" stroke="#333" stroke-width="1.5"/>
<line x1="265.90" y1="554.80" x2="268.10" y2="554.80" stroke="#333" stroke-width="0.6"/>
<text x="264.80" y="557.20" text-anchor="end" font-size="6.75" fill="#222" stroke="#222" stroke-width="0.12">0.00</text>
<line x1="271.50" y1="558.00" x2="271.50" y2="560.20" stroke="#333" stroke-width="0.6"/>
<text x="271.50" y="566.60" text-anchor="middle" font-size="6.75" fill="#222" stroke="#222" stroke-width="0.12">0.00</text>
<line x1="265.90" y1="512.72" x2="268.10" y2="512.72" stroke="#333" stroke-width="0.6"/>
<text x="264.80" y="515.12" text-anchor="end" font-size="6.75" fill="#222" stroke="#222" stroke-width="0.12">0.25</text>
<line x1="315.10" y1="558.00" x2="315.10" y2="560.20" stroke="#333" stroke-width="0.6"/>
<text x="315.10" y="566.60" text-anchor="middle" font-size="6.75" fill="#222" stroke="#222" stroke-width="0.12">0.25</text>
<line x1="265.90" y1="470.65" x2="268.10" y2="470.65" stroke="#333" stroke-width="0.6"/>
<text x="264.80" y="473.05" text-anchor="end" font-size="6.75" fill="#222" stroke="#222" stroke-width="0.12">0.50</text>
<line x1="358.70" y1="558.00" x2="358.70" y2="560.20" stroke="#333" stroke-width="0.6"/>
<text x="358.70" y="566.60" text-anchor="middle" font-size="6.75" fill="#222" stroke="#222" stroke-width="0.12">0.50</text>
<line x1="265.90" y1="428.57" x2="268.10" y2="428.57" stroke="#333" stroke-width="0.6"/>
<text x="264.80" y="430.97" text-anchor="end" font-size="6.75" fill="#222" stroke="#222" stroke-width="0.12">0.75</text>
<line x1="402.30" y1="558.00" x2="402.30" y2="560.20" stroke="#333" stroke-width="0.6"/>
<text x="402.30" y="566.60" text-anchor="middle" font-size="6.75" fill="#222" stroke="#222" stroke-width="0.12">0.75</text>
<line x1="265.90" y1="386.50" x2="268.10" y2="386.50" stroke="#333" stroke-width="0.6"/>
<text x="264.80" y="388.90" text-anchor="end" font-size="6.75" fill="#222" stroke="#222" stroke-width="0.12">1.00</text>
<line x1="445.90" y1="558.00" x2="445.90" y2="560.20" stroke="#333" stroke-width="0.6"/>
<text x="445.90" y="566.60" text-anchor="middle" font-size="6.75" fill="#222" stroke="#222" stroke-width="0.12">1.00</text>
<text x="402.30" y="541.07" text-anchor="middle" font-size="8.6" fill="#111" stroke="#111" stroke-width="0.18">AUC = 0.733</text>
<text x="358.90" y="367.60" text-anchor="middle" font-size="9.4" font-weight="bold" fill="#8e1e24" stroke="#8e1e24" stroke-width="0.15">Homet cohort 2019 (Anti−PD−1)</text>
<text x="358.90" y="378.60" text-anchor="middle" font-size="6.85" fill="#111" stroke="#111" stroke-width="0.1">6 responders and 5 nonresponders</text>
<text x="358.90" y="576.20" text-anchor="middle" font-size="9.3" font-weight="bold" fill="#8e1e24" stroke="#8e1e24" stroke-width="0.15">1−Specificity</text>
<text transform="translate(247.00,470.65) rotate(-90)" text-anchor="middle" font-size="9.3" font-weight="bold" fill="#8e1e24" stroke="#8e1e24" stroke-width="0.15">Sensitivity</text>
<rect x="501.45" y="382.85" width="180.10" height="173.20" fill="#f2f3f3"/>
<line x1="504.10" y1="382.90" x2="504.10" y2="556.00" stroke="#c6c9ce" stroke-width="0.6" stroke-dasharray="2.7,2.6"/>
<line x1="501.50" y1="553.60" x2="681.50" y2="553.60" stroke="#c6c9ce" stroke-width="0.6" stroke-dasharray="2.7,2.6"/>
<line x1="547.70" y1="382.90" x2="547.70" y2="556.00" stroke="#c6c9ce" stroke-width="0.6" stroke-dasharray="2.7,2.6"/>
<line x1="501.50" y1="511.52" x2="681.50" y2="511.52" stroke="#c6c9ce" stroke-width="0.6" stroke-dasharray="2.7,2.6"/>
<line x1="591.30" y1="382.90" x2="591.30" y2="556.00" stroke="#c6c9ce" stroke-width="0.6" stroke-dasharray="2.7,2.6"/>
<line x1="501.50" y1="469.45" x2="681.50" y2="469.45" stroke="#c6c9ce" stroke-width="0.6" stroke-dasharray="2.7,2.6"/>
<line x1="634.90" y1="382.90" x2="634.90" y2="556.00" stroke="#c6c9ce" stroke-width="0.6" stroke-dasharray="2.7,2.6"/>
<line x1="501.50" y1="427.38" x2="681.50" y2="427.38" stroke="#c6c9ce" stroke-width="0.6" stroke-dasharray="2.7,2.6"/>
<line x1="678.50" y1="382.90" x2="678.50" y2="556.00" stroke="#c6c9ce" stroke-width="0.6" stroke-dasharray="2.7,2.6"/>
<line x1="501.50" y1="385.30" x2="681.50" y2="385.30" stroke="#c6c9ce" stroke-width="0.6" stroke-dasharray="2.7,2.6"/>
<line x1="504.10" y1="553.60" x2="678.50" y2="385.30" stroke="#9a9a9a" stroke-width="0.5"/>
<path d="M504.10,553.60 L504.10,497.50 L575.91,497.50 L575.91,385.30 L678.50,385.30" fill="none" stroke="#2a9d8f" stroke-width="1.3" stroke-linejoin="miter"/>
<rect x="501.45" y="382.85" width="180.10" height="173.20" fill="none" stroke="#333" stroke-width="1.5"/>
<line x1="498.50" y1="553.60" x2="500.70" y2="553.60" stroke="#333" stroke-width="0.6"/>
<text x="497.40" y="556.00" text-anchor="end" font-size="6.75" fill="#222" stroke="#222" stroke-width="0.12">0.00</text>
<line x1="504.10" y1="556.80" x2="504.10" y2="559.00" stroke="#333" stroke-width="0.6"/>
<text x="504.10" y="565.40" text-anchor="middle" font-size="6.75" fill="#222" stroke="#222" stroke-width="0.12">0.00</text>
<line x1="498.50" y1="511.52" x2="500.70" y2="511.52" stroke="#333" stroke-width="0.6"/>
<text x="497.40" y="513.92" text-anchor="end" font-size="6.75" fill="#222" stroke="#222" stroke-width="0.12">0.25</text>
<line x1="547.70" y1="556.80" x2="547.70" y2="559.00" stroke="#333" stroke-width="0.6"/>
<text x="547.70" y="565.40" text-anchor="middle" font-size="6.75" fill="#222" stroke="#222" stroke-width="0.12">0.25</text>
<line x1="498.50" y1="469.45" x2="500.70" y2="469.45" stroke="#333" stroke-width="0.6"/>
<text x="497.40" y="471.85" text-anchor="end" font-size="6.75" fill="#222" stroke="#222" stroke-width="0.12">0.50</text>
<line x1="591.30" y1="556.80" x2="591.30" y2="559.00" stroke="#333" stroke-width="0.6"/>
<text x="591.30" y="565.40" text-anchor="middle" font-size="6.75" fill="#222" stroke="#222" stroke-width="0.12">0.50</text>
<line x1="498.50" y1="427.38" x2="500.70" y2="427.38" stroke="#333" stroke-width="0.6"/>
<text x="497.40" y="429.77" text-anchor="end" font-size="6.75" fill="#222" stroke="#222" stroke-width="0.12">0.75</text>
<line x1="634.90" y1="556.80" x2="634.90" y2="559.00" stroke="#333" stroke-width="0.6"/>
<text x="634.90" y="565.40" text-anchor="middle" font-size="6.75" fill="#222" stroke="#222" stroke-width="0.12">0.75</text>
<line x1="498.50" y1="385.30" x2="500.70" y2="385.30" stroke="#333" stroke-width="0.6"/>
<text x="497.40" y="387.70" text-anchor="end" font-size="6.75" fill="#222" stroke="#222" stroke-width="0.12">1.00</text>
<line x1="678.50" y1="556.80" x2="678.50" y2="559.00" stroke="#333" stroke-width="0.6"/>
<text x="678.50" y="565.40" text-anchor="middle" font-size="6.75" fill="#222" stroke="#222" stroke-width="0.12">1.00</text>
<text x="634.90" y="539.87" text-anchor="middle" font-size="8.6" fill="#111" stroke="#111" stroke-width="0.18">AUC = 0.725</text>
<text x="591.50" y="366.40" text-anchor="middle" font-size="9.4" font-weight="bold" fill="#8e1e24" stroke="#8e1e24" stroke-width="0.15">Gao cohort 2018 (Anti−PD−1/CTLA−4)</text>
<text x="591.50" y="377.40" text-anchor="middle" font-size="6.85" fill="#111" stroke="#111" stroke-width="0.1">3 responders and 34 nonresponders</text>
<text x="591.50" y="575.00" text-anchor="middle" font-size="9.3" font-weight="bold" fill="#8e1e24" stroke="#8e1e24" stroke-width="0.15">1−Specificity</text>
<text transform="translate(479.90,469.45) rotate(-90)" text-anchor="middle" font-size="9.3" font-weight="bold" fill="#8e1e24" stroke="#8e1e24" stroke-width="0.15">Sensitivity</text>
<rect x="34.75" y="619.65" width="180.10" height="173.20" fill="#f2f3f3"/>
<line x1="37.40" y1="619.70" x2="37.40" y2="792.80" stroke="#c6c9ce" stroke-width="0.6" stroke-dasharray="2.7,2.6"/>
<line x1="34.80" y1="790.40" x2="214.80" y2="790.40" stroke="#c6c9ce" stroke-width="0.6" stroke-dasharray="2.7,2.6"/>
<line x1="81.00" y1="619.70" x2="81.00" y2="792.80" stroke="#c6c9ce" stroke-width="0.6" stroke-dasharray="2.7,2.6"/>
<line x1="34.80" y1="748.32" x2="214.80" y2="748.32" stroke="#c6c9ce" stroke-width="0.6" stroke-dasharray="2.7,2.6"/>
<line x1="124.60" y1="619.70" x2="124.60" y2="792.80" stroke="#c6c9ce" stroke-width="0.6" stroke-dasharray="2.7,2.6"/>
<line x1="34.80" y1="706.25" x2="214.80" y2="706.25" stroke="#c6c9ce" stroke-width="0.6" stroke-dasharray="2.7,2.6"/>
<line x1="168.20" y1="619.70" x2="168.20" y2="792.80" stroke="#c6c9ce" stroke-width="0.6" stroke-dasharray="2.7,2.6"/>
<line x1="34.80" y1="664.17" x2="214.80" y2="664.17" stroke="#c6c9ce" stroke-width="0.6" stroke-dasharray="2.7,2.6"/>
<line x1="211.80" y1="619.70" x2="211.80" y2="792.80" stroke="#c6c9ce" stroke-width="0.6" stroke-dasharray="2.7,2.6"/>
<line x1="34.80" y1="622.10" x2="214.80" y2="622.10" stroke="#c6c9ce" stroke-width="0.6" stroke-dasharray="2.7,2.6"/>
<line x1="37.40" y1="790.40" x2="211.80" y2="622.10" stroke="#9a9a9a" stroke-width="0.5"/>
<path d="M37.40,790.40 L37.40,723.08 L53.25,723.08 L53.25,689.42 L69.11,689.42 L69.11,622.10 L211.80,622.10" fill="none" stroke="#3b5694" stroke-width="1.3" stroke-linejoin="miter"/>
<rect x="34.75" y="619.65" width="180.10" height="173.20" fill="none" stroke="#333" stroke-width="1.5"/>
<line x1="31.80" y1="790.40" x2="34.00" y2="790.40" stroke="#333" stroke-width="0.6"/>
<text x="30.70" y="792.80" text-anchor="end" font-size="6.75" fill="#222" stroke="#222" stroke-width="0.12">0.00</text>
<line x1="37.40" y1="793.60" x2="37.40" y2="795.80" stroke="#333" stroke-width="0.6"/>
<text x="37.40" y="802.20" text-anchor="middle" font-size="6.75" fill="#222" stroke="#222" stroke-width="0.12">0.00</text>
<line x1="31.80" y1="748.32" x2="34.00" y2="748.32" stroke="#333" stroke-width="0.6"/>
<text x="30.70" y="750.72" text-anchor="end" font-size="6.75" fill="#222" stroke="#222" stroke-width="0.12">0.25</text>
<line x1="81.00" y1="793.60" x2="81.00" y2="795.80" stroke="#333" stroke-width="0.6"/>
<text x="81.00" y="802.20" text-anchor="middle" font-size="6.75" fill="#222" stroke="#222" stroke-width="0.12">0.25</text>
<line x1="31.80" y1="706.25" x2="34.00" y2="706.25" stroke="#333" stroke-width="0.6"/>
<text x="30.70" y="708.65" text-anchor="end" font-size="6.75" fill="#222" stroke="#222" stroke-width="0.12">0.50</text>
<line x1="124.60" y1="793.60" x2="124.60" y2="795.80" stroke="#333" stroke-width="0.6"/>
<text x="124.60" y="802.20" text-anchor="middle" font-size="6.75" fill="#222" stroke="#222" stroke-width="0.12">0.50</text>
<line x1="31.80" y1="664.17" x2="34.00" y2="664.17" stroke="#333" stroke-width="0.6"/>
<text x="30.70" y="666.57" text-anchor="end" font-size="6.75" fill="#222" stroke="#222" stroke-width="0.12">0.75</text>
<line x1="168.20" y1="793.60" x2="168.20" y2="795.80" stroke="#333" stroke-width="0.6"/>
<text x="168.20" y="802.20" text-anchor="middle" font-size="6.75" fill="#222" stroke="#222" stroke-width="0.12">0.75</text>
<line x1="31.80" y1="622.10" x2="34.00" y2="622.10" stroke="#333" stroke-width="0.6"/>
<text x="30.70" y="624.50" text-anchor="end" font-size="6.75" fill="#222" stroke="#222" stroke-width="0.12">1.00</text>
<line x1="211.80" y1="793.60" x2="211.80" y2="795.80" stroke="#333" stroke-width="0.6"/>
<text x="211.80" y="802.20" text-anchor="middle" font-size="6.75" fill="#222" stroke="#222" stroke-width="0.12">1.00</text>
<text x="168.20" y="776.67" text-anchor="middle" font-size="8.6" fill="#111" stroke="#111" stroke-width="0.18">AUC = 0.909</text>
<text x="124.80" y="603.20" text-anchor="middle" font-size="9.4" font-weight="bold" fill="#8e1e24" stroke="#8e1e24" stroke-width="0.15">Cho cohort 2020 (Anti−PD−1/PD−L1)</text>
<text x="124.80" y="614.20" text-anchor="middle" font-size="6.85" fill="#111" stroke="#111" stroke-width="0.1">5 responders and 11 nonresponders</text>
<text x="124.80" y="811.80" text-anchor="middle" font-size="9.3" font-weight="bold" fill="#8e1e24" stroke="#8e1e24" stroke-width="0.15">1−Specificity</text>
<text transform="translate(13.90,706.25) rotate(-90)" text-anchor="middle" font-size="9.3" font-weight="bold" fill="#8e1e24" stroke="#8e1e24" stroke-width="0.15">Sensitivity</text>
<rect x="270.05" y="619.65" width="180.10" height="173.20" fill="#f2f3f3"/>
<line x1="272.70" y1="619.70" x2="272.70" y2="792.80" stroke="#c6c9ce" stroke-width="0.6" stroke-dasharray="2.7,2.6"/>
<line x1="270.10" y1="790.40" x2="450.10" y2="790.40" stroke="#c6c9ce" stroke-width="0.6" stroke-dasharray="2.7,2.6"/>
<line x1="316.30" y1="619.70" x2="316.30" y2="792.80" stroke="#c6c9ce" stroke-width="0.6" stroke-dasharray="2.7,2.6"/>
<line x1="270.10" y1="748.32" x2="450.10" y2="748.32" stroke="#c6c9ce" stroke-width="0.6" stroke-dasharray="2.7,2.6"/>
<line x1="359.90" y1="619.70" x2="359.90" y2="792.80" stroke="#c6c9ce" stroke-width="0.6" stroke-dasharray="2.7,2.6"/>
<line x1="270.10" y1="706.25" x2="450.10" y2="706.25" stroke="#c6c9ce" stroke-width="0.6" stroke-dasharray="2.7,2.6"/>
<line x1="403.50" y1="619.70" x2="403.50" y2="792.80" stroke="#c6c9ce" stroke-width="0.6" stroke-dasharray="2.7,2.6"/>
<line x1="270.10" y1="664.17" x2="450.10" y2="664.17" stroke="#c6c9ce" stroke-width="0.6" stroke-dasharray="2.7,2.6"/>
<line x1="447.10" y1="619.70" x2="447.10" y2="792.80" stroke="#c6c9ce" stroke-width="0.6" stroke-dasharray="2.7,2.6"/>
<line x1="270.10" y1="622.10" x2="450.10" y2="622.10" stroke="#c6c9ce" stroke-width="0.6" stroke-dasharray="2.7,2.6"/>
<line x1="272.70" y1="790.40" x2="447.10" y2="622.10" stroke="#9a9a9a" stroke-width="0.5"/>
<path d="M272.70,790.40 L272.70,727.29 L301.77,727.29 L301.77,706.25 L330.83,706.25 L330.83,643.14 L418.03,643.14 L418.03,622.10 L447.10,622.10" fill="none" stroke="#d9262b" stroke-width="1.3" stroke-linejoin="miter"/>
<rect x="270.05" y="619.65" width="180.10" height="173.20" fill="none" stroke="#333" stroke-width="1.5"/>
<line x1="267.10" y1="790.40" x2="269.30" y2="790.40" stroke="#333" stroke-width="0.6"/>
<text x="266.00" y="792.80" text-anchor="end" font-size="6.75" fill="#222" stroke="#222" stroke-width="0.12">0.00</text>
<line x1="272.70" y1="793.60" x2="272.70" y2="795.80" stroke="#333" stroke-width="0.6"/>
<text x="272.70" y="802.20" text-anchor="middle" font-size="6.75" fill="#222" stroke="#222" stroke-width="0.12">0.00</text>
<line x1="267.10" y1="748.32" x2="269.30" y2="748.32" stroke="#333" stroke-width="0.6"/>
<text x="266.00" y="750.72" text-anchor="end" font-size="6.75" fill="#222" stroke="#222" stroke-width="0.12">0.25</text>
<line x1="316.30" y1="793.60" x2="316.30" y2="795.80" stroke="#333" stroke-width="0.6"/>
<text x="316.30" y="802.20" text-anchor="middle" font-size="6.75" fill="#222" stroke="#222" stroke-width="0.12">0.25</text>
<line x1="267.10" y1="706.25" x2="269.30" y2="706.25" stroke="#333" stroke-width="0.6"/>
<text x="266.00" y="708.65" text-anchor="end" font-size="6.75" fill="#222" stroke="#222" stroke-width="0.12">0.50</text>
<line x1="359.90" y1="793.60" x2="359.90" y2="795.80" stroke="#333" stroke-width="0.6"/>
<text x="359.90" y="802.20" text-anchor="middle" font-size="6.75" fill="#222" stroke="#222" stroke-width="0.12">0.50</text>
<line x1="267.10" y1="664.17" x2="269.30" y2="664.17" stroke="#333" stroke-width="0.6"/>
<text x="266.00" y="666.57" text-anchor="end" font-size="6.75" fill="#222" stroke="#222" stroke-width="0.12">0.75</text>
<line x1="403.50" y1="793.60" x2="403.50" y2="795.80" stroke="#333" stroke-width="0.6"/>
<text x="403.50" y="802.20" text-anchor="middle" font-size="6.75" fill="#222" stroke="#222" stroke-width="0.12">0.75</text>
<line x1="267.10" y1="622.10" x2="269.30" y2="622.10" stroke="#333" stroke-width="0.6"/>
<text x="266.00" y="624.50" text-anchor="end" font-size="6.75" fill="#222" stroke="#222" stroke-width="0.12">1.00</text>
<line x1="447.10" y1="793.60" x2="447.10" y2="795.80" stroke="#333" stroke-width="0.6"/>
<text x="447.10" y="802.20" text-anchor="middle" font-size="6.75" fill="#222" stroke="#222" stroke-width="0.12">1.00</text>
<text x="403.50" y="776.67" text-anchor="middle" font-size="8.6" fill="#111" stroke="#111" stroke-width="0.18">AUC = 0.750</text>
<text x="360.10" y="603.20" text-anchor="middle" font-size="9.4" font-weight="bold" fill="#8e1e24" stroke="#8e1e24" stroke-width="0.15">Amato cohort 2020 (Anti−PD−1)</text>
<text x="360.10" y="614.20" text-anchor="middle" font-size="6.85" fill="#111" stroke="#111" stroke-width="0.1">6 responders and 8 nonresponders</text>
<text x="360.10" y="811.80" text-anchor="middle" font-size="9.3" font-weight="bold" fill="#8e1e24" stroke="#8e1e24" stroke-width="0.15">1−Specificity</text>
<text transform="translate(248.30,706.25) rotate(-90)" text-anchor="middle" font-size="9.3" font-weight="bold" fill="#8e1e24" stroke="#8e1e24" stroke-width="0.15">Sensitivity</text>
<rect x="501.45" y="619.65" width="180.10" height="173.20" fill="#f2f3f3"/>
<line x1="504.10" y1="619.70" x2="504.10" y2="792.80" stroke="#c6c9ce" stroke-width="0.6" stroke-dasharray="2.7,2.6"/>
<line x1="501.50" y1="790.40" x2="681.50" y2="790.40" stroke="#c6c9ce" stroke-width="0.6" stroke-dasharray="2.7,2.6"/>
<line x1="547.70" y1="619.70" x2="547.70" y2="792.80" stroke="#c6c9ce" stroke-width="0.6" stroke-dasharray="2.7,2.6"/>
<line x1="501.50" y1="748.32" x2="681.50" y2="748.32" stroke="#c6c9ce" stroke-width="0.6" stroke-dasharray="2.7,2.6"/>
<line x1="591.30" y1="619.70" x2="591.30" y2="792.80" stroke="#c6c9ce" stroke-width="0.6" stroke-dasharray="2.7,2.6"/>
<line x1="501.50" y1="706.25" x2="681.50" y2="706.25" stroke="#c6c9ce" stroke-width="0.6" stroke-dasharray="2.7,2.6"/>
<line x1="634.90" y1="619.70" x2="634.90" y2="792.80" stroke="#c6c9ce" stroke-width="0.6" stroke-dasharray="2.7,2.6"/>
<line x1="501.50" y1="664.17" x2="681.50" y2="664.17" stroke="#c6c9ce" stroke-width="0.6" stroke-dasharray="2.7,2.6"/>
<line x1="678.50" y1="619.70" x2="678.50" y2="792.80" stroke="#c6c9ce" stroke-width="0.6" stroke-dasharray="2.7,2.6"/>
<line x1="501.50" y1="622.10" x2="681.50" y2="622.10" stroke="#c6c9ce" stroke-width="0.6" stroke-dasharray="2.7,2.6"/>
<line x1="504.10" y1="790.40" x2="678.50" y2="622.10" stroke="#9a9a9a" stroke-width="0.5"/>
<path d="M504.10,790.40 L525.90,790.40 L525.90,748.32 L536.80,748.32 L536.80,727.29 L547.70,727.29 L547.70,706.25 L569.50,706.25 L569.50,685.21 L580.40,685.21 L580.40,643.14 L656.70,643.14 L656.70,622.10 L678.50,622.10" fill="none" stroke="#edbd1c" stroke-width="1.3" stroke-linejoin="miter"/>
<rect x="501.45" y="619.65" width="180.10" height="173.20" fill="none" stroke="#333" stroke-width="1.5"/>
<line x1="498.50" y1="790.40" x2="500.70" y2="790.40" stroke="#333" stroke-width="0.6"/>
<text x="497.40" y="792.80" text-anchor="end" font-size="6.75" fill="#222" stroke="#222" stroke-width="0.12">0.00</text>
<line x1="504.10" y1="793.60" x2="504.10" y2="795.80" stroke="#333" stroke-width="0.6"/>
<text x="504.10" y="802.20" text-anchor="middle" font-size="6.75" fill="#222" stroke="#222" stroke-width="0.12">0.00</text>
<line x1="498.50" y1="748.32" x2="500.70" y2="748.32" stroke="#333" stroke-width="0.6"/>
<text x="497.40" y="750.72" text-anchor="end" font-size="6.75" fill="#222" stroke="#222" stroke-width="0.12">0.25</text>
<line x1="547.70" y1="793.60" x2="547.70" y2="795.80" stroke="#333" stroke-width="0.6"/>
<text x="547.70" y="802.20" text-anchor="middle" font-size="6.75" fill="#222" stroke="#222" stroke-width="0.12">0.25</text>
<line x1="498.50" y1="706.25" x2="500.70" y2="706.25" stroke="#333" stroke-width="0.6"/>
<text x="497.40" y="708.65" text-anchor="end" font-size="6.75" fill="#222" stroke="#222" stroke-width="0.12">0.50</text>
<line x1="591.30" y1="793.60" x2="591.30" y2="795.80" stroke="#333" stroke-width="0.6"/>
<text x="591.30" y="802.20" text-anchor="middle" font-size="6.75" fill="#222" stroke="#222" stroke-width="0.12">0.50</text>
<line x1="498.50" y1="664.17" x2="500.70" y2="664.17" stroke="#333" stroke-width="0.6"/>
<text x="497.40" y="666.57" text-anchor="end" font-size="6.75" fill="#222" stroke="#222" stroke-width="0.12">0.75</text>
<line x1="634.90" y1="793.60" x2="634.90" y2="795.80" stroke="#333" stroke-width="0.6"/>
<text x="634.90" y="802.20" text-anchor="middle" font-size="6.75" fill="#222" stroke="#222" stroke-width="0.12">0.75</text>
<line x1="498.50" y1="622.10" x2="500.70" y2="622.10" stroke="#333" stroke-width="0.6"/>
<text x="497.40" y="624.50" text-anchor="end" font-size="6.75" fill="#222" stroke="#222" stroke-width="0.12">1.00</text>
<line x1="678.50" y1="793.60" x2="678.50" y2="795.80" stroke="#333" stroke-width="0.6"/>
<text x="678.50" y="802.20" text-anchor="middle" font-size="6.75" fill="#222" stroke="#222" stroke-width="0.12">1.00</text>
<text x="634.90" y="776.67" text-anchor="middle" font-size="8.6" fill="#111" stroke="#111" stroke-width="0.18">AUC = 0.648</text>
<text x="591.50" y="603.20" text-anchor="middle" font-size="9.4" font-weight="bold" fill="#8e1e24" stroke="#8e1e24" stroke-width="0.15">Nathanson cohort 2017 (Anti−CTLA−4)</text>
<text x="591.50" y="614.20" text-anchor="middle" font-size="6.85" fill="#111" stroke="#111" stroke-width="0.1">8 responders and 16 nonresponders</text>
<text x="591.50" y="811.80" text-anchor="middle" font-size="9.3" font-weight="bold" fill="#8e1e24" stroke="#8e1e24" stroke-width="0.15">1−Specificity</text>
<text transform="translate(479.90,706.25) rotate(-90)" text-anchor="middle" font-size="9.3" font-weight="bold" fill="#8e1e24" stroke="#8e1e24" stroke-width="0.15">Sensitivity</text>
</svg>
</body></html>
